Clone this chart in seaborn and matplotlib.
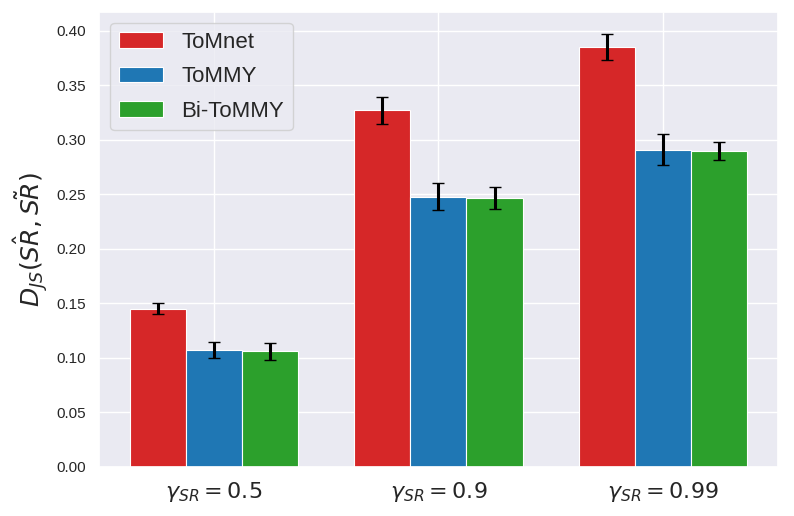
import matplotlib
matplotlib.use("Agg")
import matplotlib.pyplot as plt
import seaborn as sns
import pandas as pd
import numpy as np

settings = [r"$\gamma_{SR} = 0.5$", r"$\gamma_{SR} = 0.9$", r"$\gamma_{SR} = 0.99$"]
models = ["ToMnet", "ToMMY", "Bi-ToMMY"]
tomnet = [0.145, 0.327, 0.385]
tommy = [0.107, 0.248, 0.291]
bitommy = [0.106, 0.247, 0.290]
tomnet_err = [0.005, 0.012, 0.012]
tommy_err = [0.0075, 0.0125, 0.0145]
bitommy_err = [0.0075, 0.010, 0.0085]

colors = ["#d62728", "#1f77b4", "#2ca02c"]

rows = []
for m, vals, errs in zip(models, [tomnet, tommy, bitommy], [tomnet_err, tommy_err, bitommy_err]):
    for s, v, e in zip(settings, vals, errs):
        rows.append({"setting": s, "model": m, "value": v, "err": e})
df = pd.DataFrame(rows)

sns.set_theme(style="darkgrid")
plt.rcParams['font.family'] = ['Liberation Sans', 'DejaVu Sans']

fig = plt.figure(figsize=(7.94, 5.16), dpi=100)
ax = fig.add_axes([0.1247, 0.095, 0.855, 0.882])

sns.barplot(data=df, x="setting", y="value", hue="model", order=settings,
            hue_order=models, palette=colors, width=0.75, gap=0,
            errorbar=None, saturation=1, edgecolor="white", linewidth=0.8, ax=ax)

# error bars at bar centers
for container, m in zip(ax.containers, models):
    sub = df[df.model == m].set_index("setting").loc[settings]
    xs = [p.get_x() + p.get_width() / 2 for p in container.patches]
    ys = [p.get_height() for p in container.patches]
    ax.errorbar(xs, ys, yerr=sub["err"].values, fmt="none", ecolor="black",
                elinewidth=2.2, capsize=4, capthick=1.0, zorder=5)

ax.set_xlim(-0.5125, 2.5125)
ax.set_ylim(0, 0.4174)
ax.set_yticks(np.arange(0, 0.41, 0.05))
ax.set_yticklabels([f"{v:.2f}" for v in np.arange(0, 0.41, 0.05)], fontsize=11)
ax.tick_params(axis="x", labelsize=16)
ax.xaxis.grid(True, color="white", linewidth=1.0)
ax.set_axisbelow(True)
ax.set_xlabel("")
ax.set_ylabel(r"$D_{JS}(\hat{SR},\tilde{SR})$", fontsize=18)

leg = ax.legend(loc="upper left", fontsize=16, labelspacing=0.6)
leg.set_title(None)

fig.savefig("out.png", dpi=100)
